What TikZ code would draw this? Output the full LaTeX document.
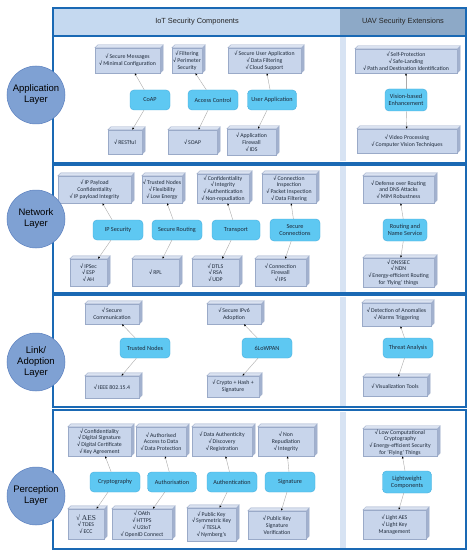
\documentclass[tikz,border=0pt]{standalone}
\usepackage{fontspec}
\setmainfont{Carlito}
\newfontfamily\arialf{Liberation Sans}
\newfontfamily\timesf{Liberation Serif}
\usetikzlibrary{arrows.meta}
\definecolor{frameblue}{HTML}{1A69B4}
\definecolor{hdrL}{HTML}{C5D9F0}
\definecolor{hdrR}{HTML}{8DA9C7}
\definecolor{bandc}{HTML}{D7E3F3}
\definecolor{circfill}{HTML}{7FA1D3}
\definecolor{circedge}{HTML}{5B80BF}
\definecolor{boxfill}{HTML}{C8D5EB}
\definecolor{boxside}{HTML}{A2B1CE}
\definecolor{boxtop}{HTML}{DBE3F1}
\definecolor{boxline}{HTML}{9AAAC8}
\definecolor{pillfill}{HTML}{5EC8F2}
\definecolor{pilledge}{HTML}{46AEDD}
\definecolor{conngray}{HTML}{ABABAB}
\definecolor{txt}{HTML}{1E2A3A}
\tikzset{
  frame/.style={draw=frameblue, line width=2.6pt},
  layer/.style={circle, minimum size=58pt, inner sep=0pt, fill=circfill, draw=circedge, line width=0.5pt, align=center, font=\arialf\fontsize{9.5}{11}\selectfont},
  hdr/.style={font=\arialf\fontsize{7.4}{9}\selectfont, text=black!85},
  cube/.style={draw=boxline, line width=0.3pt, fill=boxfill, inner sep=0.5pt, align=center, text=txt, font=\fontsize{5.8}{6.8}\selectfont},
  pill/.style={draw=pilledge, line width=0.4pt, fill=pillfill, rounded corners=4pt, align=center, inner sep=0.5pt, minimum height=20pt, minimum width=50pt, text=txt, font=\fontsize{6.2}{7.2}\selectfont},
  conn/.style={draw=conngray, line width=0.4pt, -{Latex[length=2.2pt,width=2pt,color=black]}},
  sidef/.style={fill=boxside, draw=boxline, line width=0.3pt},
  topf/.style={fill=boxtop, draw=boxline, line width=0.3pt}
}
\newcommand\ck{√}
\newcommand\cbox[6]{%
  \pgfmathsetmacro\bxw{#4-#2-3}\pgfmathsetmacro\bxh{#5-#3-3}%
  \pgfmathsetmacro\bxx{(#2+#4-3)/2}\pgfmathsetmacro\bxy{(#3+3+#5)/2}%
  \node[cube, minimum width=\bxw pt, minimum height=\bxh pt] (#1) at (\bxx,\bxy) {#6};
  \draw[sidef] (#1.north east) -- ++(3,-3) -- ([shift={(3,-3)}]#1.south east) -- (#1.south east) -- cycle;
  \draw[topf] (#1.north west) -- ++(3,-3) -- ([shift={(3,-3)}]#1.north east) -- (#1.north east) -- cycle;
}
\begin{document}
\begin{tikzpicture}[x=1pt,y=-1pt]
\useasboundingbox (0,0) rectangle (474,556);
\fill[white] (0,0) rectangle (474,556);
% header
\fill[hdrL] (53,8) rectangle (340,36);
\fill[hdrR] (340,8) rectangle (466,36);
\draw[frame] (53,8) rectangle (466,36);
\node[hdr] (hiot) at (197,22) {IoT Security Components};
\node[hdr] (huav) at (403,22) {UAV Security Extensions};
% bands
\fill[bandc] (340,37.5) rectangle (346,161.5);
\fill[bandc] (340,166.5) rectangle (346,291.5);
\fill[bandc] (340,296.5) rectangle (346,405.5);
\fill[bandc] (340,411.5) rectangle (346,547.5);
% section frames
\draw[frame] (53,36) rectangle (466,163);
\draw[frame] (53,165) rectangle (466,293);
\draw[frame] (53,295) rectangle (466,407);
\draw[frame] (53,410) rectangle (466,549);

% ---------- Application layer ----------
\cbox{a1}{95}{45}{163}{73}{\ck{} Secure Messages\\\ck{} Minimal Configuration}
\cbox{a2}{172}{45}{205}{73}{\ck{} Filtering\\\ck{} Perimeter\\Security}
\cbox{a3}{228}{45}{304}{73}{\ck{} Secure User Application\\\ck{} Data Filtering\\\ck{} Cloud Support}
\cbox{a4}{108}{127}{145}{154}{\ck{} RESTful}
\cbox{a5}{168}{127}{220}{154}{\ck{} SOAP}
\cbox{a6}{227}{126}{279}{155}{\ck{} Application\\Firewall\\\ck{} IDS}
\node[pill, minimum width=40pt] (coap) at (150,100) {CoAP};
\node[pill] (acc) at (213,100) {Access Control};
\node[pill, minimum width=49pt] (uapp) at (272,100) {User Application};
\draw[conn] (coap) -- (a1);
\draw[conn] (acc) -- (a2);
\draw[conn] (uapp) -- (a3);
\draw[conn] (coap) -- (a4);
\draw[conn] (acc) -- (a5);
\draw[conn] (uapp) -- (a6);
\cbox{u1}{355}{46}{460}{73}{\ck{} Self-Protection\\\ck{} Safe-Landing\\\ck{} Path and Destination Identification}
\cbox{u2}{357}{126}{460}{153}{\ck{} Video Processing\\\ck{} Computer Vision Techniques}
\node[pill, minimum width=42pt, minimum height=22pt] (vis) at (406,100) {Vision-based\\Enhancement};
\draw[conn] (vis) -- (u1);
\draw[conn] (vis) -- (u2);

% ---------- Network layer ----------
\cbox{n1}{58}{173}{134}{203}{\ck{} IP Payload\\Confidentiality\\\ck{} IP payload Integrity}
\cbox{n2}{142}{173}{185}{203}{\ck{} Trusted Nodes\\\ck{} Flexibility\\\ck{} Low Energy}
\cbox{n3}{197}{171}{252}{203}{\ck{} Confidentiality\\\ck{} Integrity\\\ck{} Authentication\\\ck{} Non-repudiation}
\cbox{n4}{262}{171}{319}{203}{\ck{} Connection\\Inspection\\\ck{} Packet Inspection\\\ck{} Data Filtering}
\cbox{n5}{70}{256}{110}{286}{\ck{} IPSec\\\ck{} ESP\\\ck{} AH}
\cbox{n6}{132}{256}{182}{286}{\ck{} RPL}
\cbox{n7}{192}{256}{242}{286}{\ck{} DTLS\\\ck{} RSA\\\ck{} UDP}
\cbox{n8}{255}{256}{309}{286}{\ck{} Connection\\Firewall\\\ck{} IPS}
\node[pill] (ipsec) at (118,230) {IP Security};
\node[pill] (srout) at (177,230) {Secure Routing};
\node[pill, minimum width=48pt] (trans) at (236,230) {Transport};
\node[pill, minimum height=22pt] (sconn) at (295,230) {Secure\\Connections};
\draw[conn] (ipsec) -- (n1);
\draw[conn] (srout) -- (n2);
\draw[conn] (trans) -- (n3);
\draw[conn] (sconn) -- (n4);
\draw[conn] (ipsec) -- (n5);
\draw[conn] (srout) -- (n6);
\draw[conn] (trans) -- (n7);
\draw[conn] (sconn) -- (n8);
\cbox{v1}{363}{173}{437}{203}{\ck{} Defense over Routing\\and DNS Attacks\\\ck{} MiM Robustness}
\cbox{v2}{363}{255}{437}{287}{\ck{} DNSSEC\\\ck{} NDN\\\ck{} Energy-efficient Routing\\for `flying' things}
\node[pill, minimum width=44pt, minimum height=22pt] (rns) at (405,230) {Routing and\\Name Service};
\draw[conn] (rns) -- (v1);
\draw[conn] (rns) -- (v2);

% ---------- Link / Adoption layer ----------
\cbox{l1}{85}{301}{142}{324}{\ck{} Secure\\Communication}
\cbox{l2}{207}{301}{264}{324}{\ck{} Secure IPv6\\Adoption}
\cbox{l3}{85}{373}{142}{398}{\ck{} IEEE 802.15.4}
\cbox{l4}{207}{373}{262}{397}{\ck{} Crypto + Hash +\\Signature}
\node[pill] (tnodes) at (145,348) {Trusted Nodes};
\node[pill] (lowpan) at (267,348) {6LoWPAN};
\draw[conn] (tnodes) -- (l1);
\draw[conn] (lowpan) -- (l2);
\draw[conn] (tnodes) -- (l3);
\draw[conn] (lowpan) -- (l4);
\cbox{w1}{362}{300}{434}{326}{\ck{} Detection of Anomalies\\\ck{} Alarms Triggering}
\cbox{w2}{363}{374}{430}{396}{\ck{} Visualization Tools}
\node[pill] (threat) at (408,348) {Threat Analysis};
\draw[conn] (threat) -- (w1);
\draw[conn] (threat) -- (w2);

% ---------- Perception layer ----------
\cbox{p1}{68}{424}{134}{456}{\ck{} Confidentiality\\\ck{} Digital Signature\\\ck{} Digital Certificate\\\ck{} Key Agreement}
\cbox{p2}{136}{424}{189}{456}{\ck{} Authorised\\Access to Data\\\ck{} Data Protection}
\cbox{p3}{192}{424}{255}{456}{\ck{} Data Authenticity\\\ck{} Discovery\\\ck{} Registration}
\cbox{p4}{258}{424}{317}{456}{\ck{} Non\\Repudiation\\\ck{} Integrity}
\cbox{p5}{68}{506}{107}{539}{\timesf\fontsize{7.4}{8.6}\selectfont \ck{} AES\\\ck{} TDES\\\ck{} ECC}
\cbox{p6}{112}{506}{175}{539}{\ck{} OAth\\\ck{} HTTPS\\\ck{} U2IoT\\\ck{} OpenID Connect}
\cbox{p7}{187}{505}{239}{541}{\ck{} Public Key\\\ck{} Symmetric Key\\\ck{} TESLA\\\ck{} Nymberg's}
\cbox{p8}{248}{508}{309}{539}{\ck{} Public Key\\Signature\\Verification}
\node[pill] (crypt) at (115,482) {Cryptography};
\node[pill, minimum width=49pt] (authz) at (172,482) {Authorisation};
\node[pill] (authn) at (232,482) {Authentication};
\node[pill] (sig) at (290,482) {Signature};
\draw[conn] (crypt) -- (p1);
\draw[conn] (authz) -- (p2);
\draw[conn] (authn) -- (p3);
\draw[conn] (sig) -- (p4);
\draw[conn] (crypt) -- (p5);
\draw[conn] (authz) -- (p6);
\draw[conn] (authn) -- (p7);
\draw[conn] (sig) -- (p8);
\cbox{x1}{363}{426}{440}{456}{\ck{} Low Computational\\Cryptography\\\ck{} Energy-efficient Security\\for `Flying' Things}
\cbox{x2}{363}{507}{429}{539}{\ck{} Light AES\\\ck{} Light Key\\Management}
\node[pill, minimum width=49pt, minimum height=22pt] (lwc) at (407,482) {Lightweight\\Components};
\draw[conn] (lwc) -- (x1);
\draw[conn] (lwc) -- (x2);

% ---------- layer circles ----------
\node[layer] (lapp) at (36,95) {Application\\Layer};
\node[layer] (lnet) at (36,219) {Network\\Layer};
\node[layer] (llink) at (36,362) {Link/\\Adoption\\Layer};
\node[layer] (lper) at (36,496) {Perception\\Layer};
\end{tikzpicture}
\end{document}
